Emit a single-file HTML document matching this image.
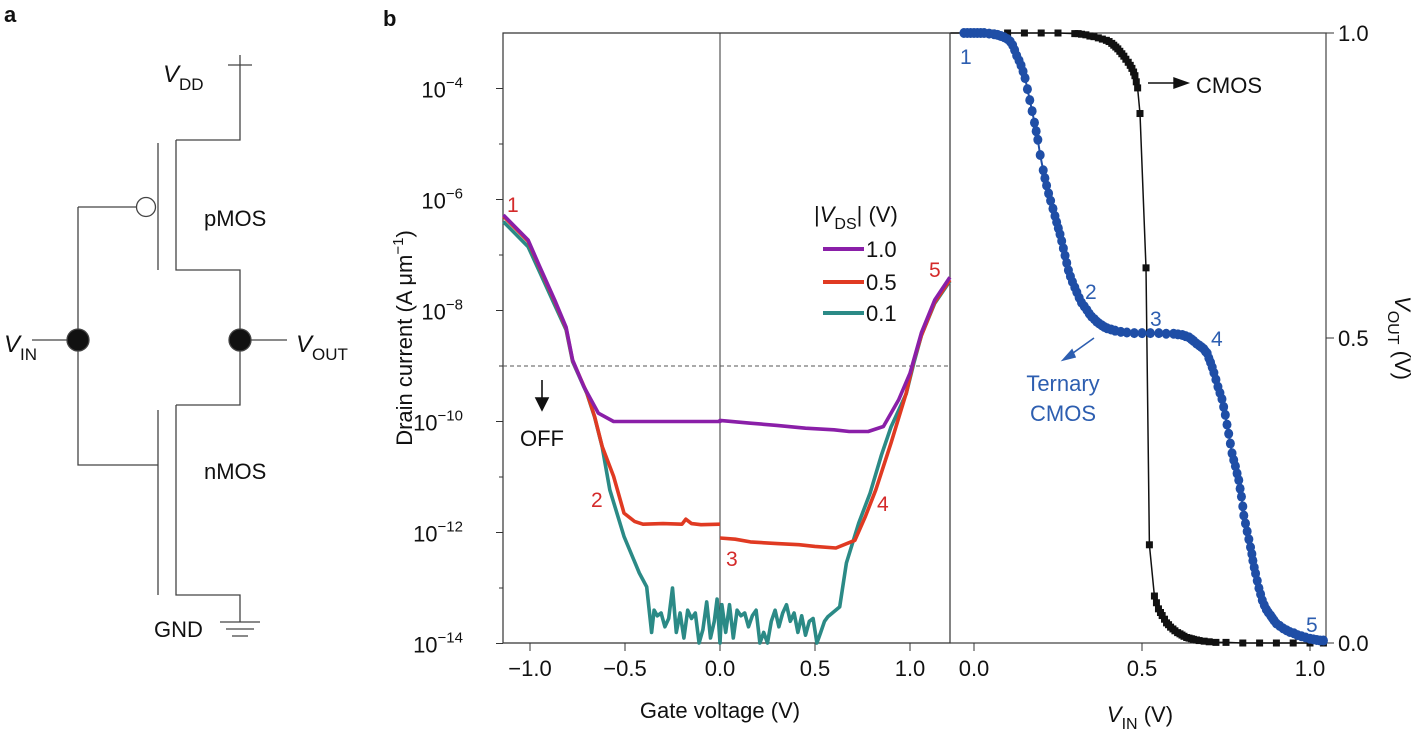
<!DOCTYPE html>
<html><head><meta charset="utf-8"><style>
body{margin:0;background:#fff;}
svg{display:block;font-family:"Liberation Sans",Arial,sans-serif;}
</style></head><body>
<svg id="fig" width="1419" height="732" viewBox="0 0 1419 732">
<g stroke="#444" stroke-width="1.3" fill="none">
  <text x="4" y="22" font-size="22" font-weight="bold" fill="#111" stroke="none">a</text>
  <text x="163" y="82" font-size="24" font-style="italic" fill="#111" stroke="none">V<tspan font-size="17" font-style="normal" dy="8">DD</tspan></text>
  <path d="M240 55 V140 H176 M228 65 H252 M176 140 V270 H240 V405 H176 M176 405 V595 H240 V622 M158 143 V270 M158 410 V595 M78 207 H136 M78 207 V465 H158 M32 340 H78 M240 340 H287 M220 622 H260 M226 629 H254 M232 636 H248"/>
  <circle cx="146" cy="207" r="9.5" fill="#fff"/>
  <circle cx="78" cy="340" r="11" fill="#111"/>
  <circle cx="240" cy="340" r="11" fill="#111"/>
  <text x="204" y="226" font-size="22" fill="#111" stroke="none">pMOS</text>
  <text x="204" y="479" font-size="22" fill="#111" stroke="none">nMOS</text>
  <text x="4" y="352" font-size="24" font-style="italic" fill="#111" stroke="none">V<tspan font-size="17" font-style="normal" dy="8">IN</tspan></text>
  <text x="296" y="352" font-size="24" font-style="italic" fill="#111" stroke="none">V<tspan font-size="17" font-style="normal" dy="8">OUT</tspan></text>
  <text x="154" y="637" font-size="22" fill="#111" stroke="none">GND</text>
</g>
<text x="383" y="26" font-size="22" font-weight="bold" fill="#111">b</text>
<g id="left"></g>
<g id="right"></g>
</svg>
<script>
// ---- left plot data (gate voltage V, log10 drain current) ----
const vgPurple = [-1.14,-1.01,-0.95,-0.87,-0.81,-0.776,-0.717,-0.64,-0.56,-0.4,-0.2,0.0,0.0,0.16,0.3,0.45,0.6,0.68,0.78,0.86,0.94,1.0,1.06,1.13,1.21];
const logPurple = [-6.28,-6.73,-7.2,-7.81,-8.3,-8.89,-9.37,-9.85,-10.0,-10.0,-10.0,-10.0,-9.98,-10.03,-10.07,-10.12,-10.15,-10.18,-10.18,-10.09,-9.61,-9.13,-8.4,-7.81,-7.4];
const vgRed = [-1.14,-1.01,-0.95,-0.87,-0.81,-0.776,-0.70,-0.66,-0.62,-0.56,-0.505,-0.45,-0.405,-0.3,-0.2,-0.18,-0.15,-0.1,0.0,null,0.0,0.08,0.16,0.3,0.415,0.5,0.61,0.71,0.765,0.82,0.9,0.98,1.02,1.06,1.13,1.21];
const logRed = [-6.3,-6.75,-7.22,-7.83,-8.32,-8.9,-9.49,-9.91,-10.45,-10.99,-11.65,-11.8,-11.85,-11.84,-11.85,-11.76,-11.84,-11.86,-11.85,null,-12.1,-12.12,-12.17,-12.2,-12.22,-12.25,-12.28,-12.14,-11.71,-11.23,-10.39,-9.49,-8.9,-8.45,-7.85,-7.45];
const vgTeal = [-1.14,-1.01,-0.95,-0.87,-0.81,-0.776,-0.70,-0.66,-0.62,-0.58,-0.505,-0.425,-0.386,-0.36,-0.347,-0.33,-0.31,-0.29,-0.27,-0.25,-0.23,-0.21,-0.19,-0.17,-0.15,-0.13,-0.11,-0.09,-0.07,-0.05,-0.03,-0.015,0.0,0.01,0.03,0.05,0.07,0.09,0.11,0.13,0.15,0.17,0.19,0.21,0.23,0.25,0.27,0.29,0.31,0.33,0.35,0.37,0.39,0.41,0.43,0.45,0.47,0.49,0.51,0.53,0.55,0.567,0.63,0.665,0.73,0.79,0.85,0.9,0.98,1.02,1.06,1.13,1.21];
const logTeal = [-6.4,-6.85,-7.3,-7.9,-8.35,-8.92,-9.5,-9.92,-10.46,-11.23,-12.07,-12.73,-12.98,-13.8,-13.4,-13.5,-13.45,-13.7,-13.55,-13.0,-13.8,-13.45,-13.9,-13.4,-13.55,-13.45,-14.0,-13.75,-13.25,-13.9,-13.6,-13.2,-14.0,-13.3,-13.8,-13.3,-13.9,-13.4,-13.5,-13.45,-13.7,-13.5,-13.4,-14.0,-13.8,-14.0,-13.6,-13.4,-13.7,-13.45,-13.3,-13.6,-13.45,-13.8,-13.5,-13.85,-13.6,-13.55,-14.0,-13.8,-13.6,-13.52,-13.34,-12.55,-11.83,-11.29,-10.6,-10.1,-9.5,-8.95,-8.45,-7.87,-7.47];
const xTicksL = [-1.0,-0.5,0.0,0.5,1.0];
const xTickLabelsL = ["\u22121.0","\u22120.5","0.0","0.5","1.0"];
const yTicksL = [-4,-6,-8,-10,-12,-14];
const yTickLabelsL = ["\u22124","\u22126","\u22128","\u221210","\u221212","\u221214"];
// ---- right plot data ----
const vinTernary = [-0.03,-0.02,-0.01,0.0,0.01,0.02,0.03,0.045,0.06,0.07,0.08,0.09,0.1,0.108,0.115,0.121,0.127,0.134,0.14,0.146,0.152,0.159,0.166,0.173,0.18,0.185,0.19,0.197,0.206,0.211,0.216,0.222,0.228,0.235,0.241,0.246,0.251,0.256,0.261,0.266,0.271,0.276,0.281,0.287,0.293,0.3,0.306,0.313,0.32,0.328,0.336,0.343,0.35,0.358,0.365,0.372,0.38,0.388,0.396,0.408,0.42,0.437,0.455,0.477,0.5,0.525,0.55,0.572,0.594,0.607,0.62,0.63,0.64,0.647,0.654,0.662,0.67,0.677,0.684,0.689,0.694,0.699,0.704,0.709,0.714,0.72,0.726,0.732,0.738,0.743,0.748,0.753,0.758,0.763,0.768,0.773,0.778,0.783,0.788,0.792,0.796,0.8,0.803,0.808,0.813,0.818,0.823,0.827,0.83,0.834,0.838,0.843,0.848,0.853,0.858,0.864,0.87,0.876,0.883,0.888,0.893,0.9,0.91,0.92,0.93,0.94,0.952,0.963,0.975,0.987,1.0,1.01,1.02,1.03,1.04];
const voutTernary = [1.0,1.0,1.0,1.0,1.0,1.0,1.0,0.999,0.998,0.997,0.995,0.993,0.99,0.986,0.98,0.972,0.963,0.955,0.947,0.937,0.926,0.908,0.89,0.872,0.853,0.839,0.825,0.8,0.775,0.762,0.75,0.737,0.725,0.712,0.70,0.69,0.68,0.67,0.659,0.647,0.635,0.623,0.611,0.601,0.592,0.583,0.575,0.566,0.558,0.552,0.546,0.54,0.535,0.531,0.527,0.524,0.521,0.518,0.516,0.514,0.512,0.51,0.509,0.508,0.508,0.508,0.508,0.507,0.507,0.506,0.505,0.503,0.501,0.498,0.495,0.491,0.488,0.485,0.482,0.478,0.475,0.467,0.46,0.452,0.443,0.432,0.42,0.41,0.40,0.387,0.374,0.358,0.343,0.327,0.311,0.3,0.29,0.278,0.267,0.253,0.24,0.224,0.209,0.196,0.183,0.17,0.157,0.146,0.135,0.124,0.114,0.102,0.09,0.08,0.07,0.062,0.055,0.05,0.045,0.041,0.037,0.032,0.028,0.024,0.021,0.018,0.016,0.013,0.011,0.009,0.007,0.006,0.005,0.004,0.004];
const vinCmos = [-0.07,0.0,0.05,0.1,0.15,0.2,0.25,0.3,0.31,0.32,0.333,0.345,0.357,0.37,0.382,0.394,0.402,0.41,0.416,0.422,0.428,0.434,0.44,0.446,0.452,0.459,0.465,0.47,0.475,0.479,0.483,0.487,0.494,0.512,0.522,0.537,0.543,0.549,0.555,0.56,0.567,0.573,0.579,0.585,0.592,0.598,0.606,0.613,0.619,0.625,0.633,0.64,0.647,0.653,0.662,0.67,0.685,0.7,0.72,0.75,0.8,0.85,0.9,0.95,1.0,1.04];
const voutCmos = [1.0,1.0,1.0,1.0,1.0,1.0,1.0,0.999,0.999,0.998,0.997,0.995,0.994,0.992,0.99,0.988,0.986,0.983,0.98,0.977,0.974,0.97,0.966,0.962,0.957,0.952,0.947,0.942,0.936,0.93,0.92,0.91,0.868,0.615,0.161,0.077,0.066,0.056,0.05,0.045,0.039,0.033,0.03,0.026,0.023,0.02,0.017,0.015,0.013,0.011,0.009,0.008,0.007,0.006,0.005,0.004,0.003,0.002,0.001,0.001,0.0,0.0,0.0,0.0,0.0,0.0];
const xTicksR = [0.0,0.5,1.0];
const yTicksR = [0.0,0.5,1.0];

const NS="http://www.w3.org/2000/svg";
function mk(tag,attrs,parent){const e=document.createElementNS(NS,tag);for(const k in attrs)e.setAttribute(k,attrs[k]);parent.appendChild(e);return e;}

const L={x0:503,x1:950,y0:33,y1:643};
const xL=v=>720+190*v;
const yL=l=>33+(-3-l)*55.5;
const gL=document.getElementById('left');
function linePath(xs,ys,fx,fy){let d='',pen=false;for(let i=0;i<xs.length;i++){if(xs[i]===null){pen=false;continue;}d+=(pen?'L':'M')+fx(xs[i]).toFixed(1)+' '+fy(ys[i]).toFixed(1);pen=true;}return d;}
let fr=mk('path',{d:`M${L.x0} ${L.y1} V${L.y0} H${L.x1} V${L.y1} H${L.x0}`,stroke:'#333','stroke-width':1.2,fill:'none'},gL);


let zl=mk('line',{x1:xL(0),x2:xL(0),y1:L.y0,y2:L.y1,stroke:'#333','stroke-width':1},gL);


let dl=mk('line',{x1:L.x0,x2:L.x1,y1:yL(-9),y2:yL(-9),stroke:'#555','stroke-width':1,'stroke-dasharray':'4 3'},gL);


xTicksL.forEach((v,i)=>{
  mk('line',{x1:xL(v),x2:xL(v),y1:L.y1,y2:L.y1+8,stroke:'#333'},gL);
  const t=mk('text',{x:xL(v),y:L.y1+33,'font-size':22,'text-anchor':'middle',fill:'#111'},gL);
  t.textContent=xTickLabelsL[i];
  
  
});
for(let l=-4;l>=-14;l--){mk('line',{x1:L.x0-(l%2===0?7:4),x2:L.x0,y1:yL(l),y2:yL(l),stroke:'#333'},gL);}
yTicksL.forEach((l,i)=>{
  const t=mk('text',{x:L.x0-40,y:yL(l)+9,'font-size':22,'text-anchor':'end',fill:'#111'},gL);
  t.textContent='10';
  const s=mk('tspan',{dy:-10,'font-size':15},t);s.textContent=yTickLabelsL[i];
  
  
});
[['#2b8a86',vgTeal,logTeal,'series-vds-0.1'],['#e03a22',vgRed,logRed,'series-vds-0.5'],['#8a1fa8',vgPurple,logPurple,'series-vds-1.0']].forEach(s=>{
  const p=mk('path',{d:linePath(s[1],s[2],xL,v=>Math.min(yL(v),643)),stroke:s[0],'stroke-width':3.6,fill:'none','stroke-linejoin':'round'},gL);
  
  
});
function txt(parent,x,y,str,size,color,name,anchor){const t=mk('text',{x:x,y:y,'font-size':size,fill:color,'text-anchor':anchor||'start'},parent);t.textContent=str;return t;}
txt(gL,507,212,'1',21,'#d42a2a','point-label-1');
txt(gL,591,507,'2',21,'#d42a2a','point-label-2');
txt(gL,726,566,'3',21,'#d42a2a','point-label-3');
txt(gL,877,511,'4',21,'#d42a2a','point-label-4');
txt(gL,929,277,'5',21,'#d42a2a','point-label-5');
txt(gL,520,446,'OFF',22,'#111','off-label');
mk('path',{d:'M542 380 V404 M536 398 L542 410 L548 398 Z',stroke:'#111','stroke-width':1.6,fill:'#111'},gL);
const yt=mk('text',{transform:'translate(412,338) rotate(-90)','font-size':22,'text-anchor':'middle',fill:'#111'},gL);
yt.innerHTML='Drain current (A μm<tspan dy="-9" font-size="15">−1</tspan><tspan dy="9">)</tspan>';


txt(gL,720,718,'Gate voltage (V)',22,'#111','x-axis-title','middle');
const lg=mk('g',{},gL);


const lt=mk('text',{x:814,y:222,'font-size':22,fill:'#111'},lg);
lt.innerHTML='|<tspan font-style="italic">V</tspan><tspan font-size="16" dy="7">DS</tspan><tspan dy="-7">| (V)</tspan>';
[['#8a1fa8','1.0',257],['#e03a22','0.5',290],['#2b8a86','0.1',321]].forEach(e=>{
  const g=mk('g',{},lg);
  
  
  mk('line',{x1:823,x2:864,y1:e[2]-8,y2:e[2]-8,stroke:e[0],'stroke-width':4},g);
  const t=mk('text',{x:866,y:e[2],'font-size':22,fill:'#111'},g);t.textContent=e[1];
});

const R={x0:950,x1:1326,y0:33,y1:643};
const xR=v=>974+336*v;
const yR=v=>643-610*v;
const gR=document.getElementById('right');
let fr2=mk('path',{d:`M${R.x0} ${R.y1} H${R.x1} V${R.y0} H${R.x0}`,stroke:'#444','stroke-width':1.2,fill:'none'},gR);


xTicksR.forEach(v=>{
  mk('line',{x1:xR(v),x2:xR(v),y1:R.y1,y2:R.y1+8,stroke:'#333'},gR);
  txt(gR,xR(v),R.y1+33,v.toFixed(1),22,'#111','right-x-tick-label','middle');
});
yTicksR.forEach(v=>{
  mk('line',{x1:R.x1,x2:R.x1+8,y1:yR(v),y2:yR(v),stroke:'#333'},gR);
  txt(gR,R.x1+12,yR(v)+8,v.toFixed(1),22,'#111','right-y-tick-label');
});
const cm=mk('path',{d:linePath(vinCmos,voutCmos,xR,yR),stroke:'#111','stroke-width':1.5,fill:'none'},gR);


vinCmos.forEach((v,i)=>{if(v<-0.03)return;const r=mk('rect',{x:xR(v)-3.5,y:yR(voutCmos[i])-3.5,width:7,height:7,fill:'#111'},gR);
  
  });
const tp=mk('path',{d:linePath(vinTernary,voutTernary,xR,yR),stroke:'#1f4ea6','stroke-width':2,fill:'none'},gR);


vinTernary.forEach((v,i)=>{const c=mk('ellipse',{cx:xR(v),cy:yR(voutTernary[i]),rx:4.5,ry:5,fill:'#1f4ea6'},gR);
  
  });
txt(gR,960,64,'1',21,'#2d5eb0','ternary-label-1');
txt(gR,1085,299,'2',21,'#2d5eb0','ternary-label-2');
txt(gR,1150,326,'3',21,'#2d5eb0','ternary-label-3');
txt(gR,1211,346,'4',21,'#2d5eb0','ternary-label-4');
txt(gR,1306,632,'5',21,'#2d5eb0','ternary-label-5');
txt(gR,1196,93,'CMOS',22,'#111','cmos-label');
mk('path',{d:'M1148 83 H1180 M1174 78 L1188 83 L1174 88 Z',stroke:'#111','stroke-width':1.4,fill:'#111'},gR);
txt(gR,1063,391,'Ternary',22,'#2d5eb0','ternary-label','middle');
txt(gR,1063,421,'CMOS',22,'#2d5eb0','ternary-label-2nd-line','middle');
mk('path',{d:'M1094 338 L1066 358 M1063 360 L1072 350 L1075 357 Z',stroke:'#2d5eb0','stroke-width':1.6,fill:'#2d5eb0'},gR);
const xr=mk('text',{x:1140,y:722,'font-size':22,fill:'#111','text-anchor':'middle'},gR);
xr.innerHTML='<tspan font-style="italic">V</tspan><tspan font-size="16" dy="7">IN</tspan><tspan dy="-7"> (V)</tspan>';


const yr=mk('text',{transform:'translate(1395,338) rotate(90)','font-size':22,fill:'#111','text-anchor':'middle'},gR);
yr.innerHTML='<tspan font-style="italic">V</tspan><tspan font-size="16" dy="7">OUT</tspan><tspan dy="-7"> (V)</tspan>';


</script>
</body></html>
